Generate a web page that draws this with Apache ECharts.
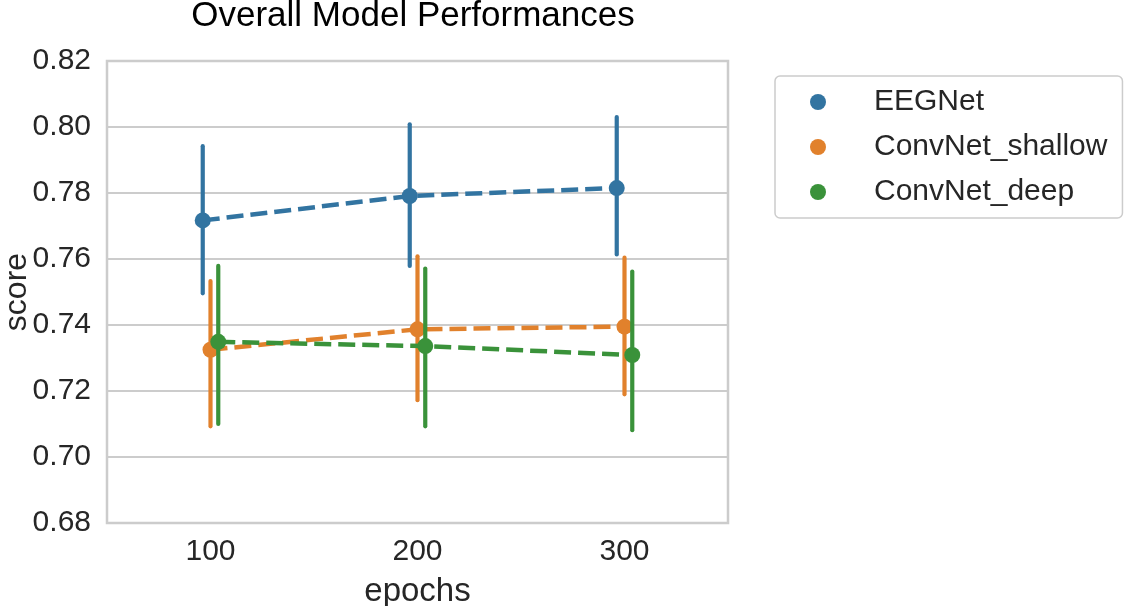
<!DOCTYPE html>
<html>
<head>
<meta charset="utf-8">
<title>Overall Model Performances</title>
<script src="https://cdn.jsdelivr.net/npm/echarts@6/dist/echarts.min.js"></script>
<style>
    html, body { margin: 0; padding: 0; background: #fff; }
    #chart { width: 1125px; height: 606px; }
</style>
</head>
<body>
<div id="chart"></div>
<script>
'use strict';

// 数据
var epochs = [100, 200, 300];
var modelNames = ['EEGNet', 'ConvNet_shallow', 'ConvNet_deep'];

var eegnetMean = [0.7717, 0.7791, 0.7815];
var eegnetLow = [0.7496, 0.7579, 0.7614];
var eegnetHigh = [0.7942, 0.8008, 0.8030];

var shallowMean = [0.7325, 0.7387, 0.7395];
var shallowLow = [0.7093, 0.7172, 0.7190];
var shallowHigh = [0.7533, 0.7608, 0.7604];

var deepMean = [0.7349, 0.7336, 0.7309];
var deepLow = [0.7100, 0.7093, 0.7081];
var deepHigh = [0.7579, 0.7571, 0.7562];

var yMin = 0.68, yMax = 0.82, yStep = 0.02;

// seaborn 风格
var colors = ['#3274A1', '#E1812C', '#3A923A'];
var textColor = '#262626';
var gridColor = '#cccccc';
var font = '"Liberation Sans", Arial, Helvetica, sans-serif';

// dodge: 每个类别宽 100, 左右各偏 0.0375
var dodge = [-3.75, 0, 3.75];

var groups = [
    {mean: eegnetMean, low: eegnetLow, high: eegnetHigh},
    {mean: shallowMean, low: shallowLow, high: shallowHigh},
    {mean: deepMean, low: deepLow, high: deepHigh}
];

var series = [];
groups.forEach(function (g, i) {
    var errData = epochs.map(function (e, k) {
        return [e + dodge[i], g.low[k], g.high[k]];
    });
    // 误差线
    series.push({
        type: 'custom',
        name: modelNames[i] + '_err',
        z: 2 + i * 2,
        data: errData,
        encode: {x: 0, y: [1, 2]},
        renderItem: function (params, api) {
            var p0 = api.coord([api.value(0), api.value(1)]);
            var p1 = api.coord([api.value(0), api.value(2)]);
            return {
                type: 'line',
                shape: {x1: p0[0], y1: p0[1], x2: p1[0], y2: p1[1]},
                style: {stroke: colors[i], lineWidth: 4.2, lineCap: 'round'}
            };
        },
        silent: true
    });
    // 均值点 + 虚线
    series.push({
        type: 'line',
        name: modelNames[i],
        z: 3 + i * 2,
        data: epochs.map(function (e, k) { return [e + dodge[i], g.mean[k]]; }),
        symbol: 'circle',
        symbolSize: 16,
        showSymbol: true,
        itemStyle: {color: colors[i]},
        lineStyle: {color: colors[i], width: 4.5, type: [17, 7]},
        animation: false
    });
});

var chart = echarts.init(document.getElementById('chart'));
chart.setOption({
    animation: false,
    backgroundColor: '#ffffff',
    title: {
        text: 'Overall Model Performances',
        left: 408,
        top: -6,
        textAlign: 'center',
        textStyle: {fontFamily: font, fontSize: 35, fontWeight: 'normal', color: '#000'}
    },
    legend: {
        orient: 'vertical',
        left: 775,
        top: 76,
        data: modelNames.map(function (n) { return {name: n, icon: 'circle'}; }),
        itemWidth: 16,
        itemHeight: 16,
        itemGap: 13,
        padding: [10, 15, 10, 35],
        backgroundColor: '#ffffff',
        borderColor: gridColor,
        borderWidth: 1.5,
        borderRadius: 5,
        textStyle: {fontFamily: font, fontSize: 30, color: textColor, lineHeight: 32, padding: [0, 0, 0, 43]}
    },
    grid: {
        left: 107,
        right: 397,
        top: 61,
        bottom: 83,
        outerBoundsMode: 'none',
        containLabel: false,
        show: true,
        borderColor: gridColor,
        borderWidth: 2.5,
        backgroundColor: '#ffffff'
    },
    xAxis: {
        type: 'value',
        min: 50,
        max: 350,
        name: 'epochs',
        nameLocation: 'middle',
        nameGap: 52,
        nameMoveOverlap: false,
        nameTextStyle: {fontFamily: font, fontSize: 33, color: textColor},
        axisLine: {show: false},
        axisTick: {show: false},
        splitLine: {show: false},
        axisLabel: {
            customValues: epochs,
            margin: 14,
            fontFamily: font,
            fontSize: 30,
            color: textColor
        }
    },
    yAxis: {
        type: 'value',
        min: yMin,
        max: yMax,
        interval: yStep,
        name: 'score',
        nameLocation: 'middle',
        nameGap: 74,
        nameMoveOverlap: false,
        nameTextStyle: {fontFamily: font, fontSize: 32, color: textColor},
        axisLine: {show: false},
        axisTick: {show: false},
        splitLine: {lineStyle: {color: gridColor, width: 2}},
        axisLabel: {
            margin: 16,
            fontFamily: font,
            fontSize: 30,
            color: textColor,
            formatter: function (v) { return v.toFixed(2); }
        }
    },
    series: series
});
</script>
</body>
</html>
